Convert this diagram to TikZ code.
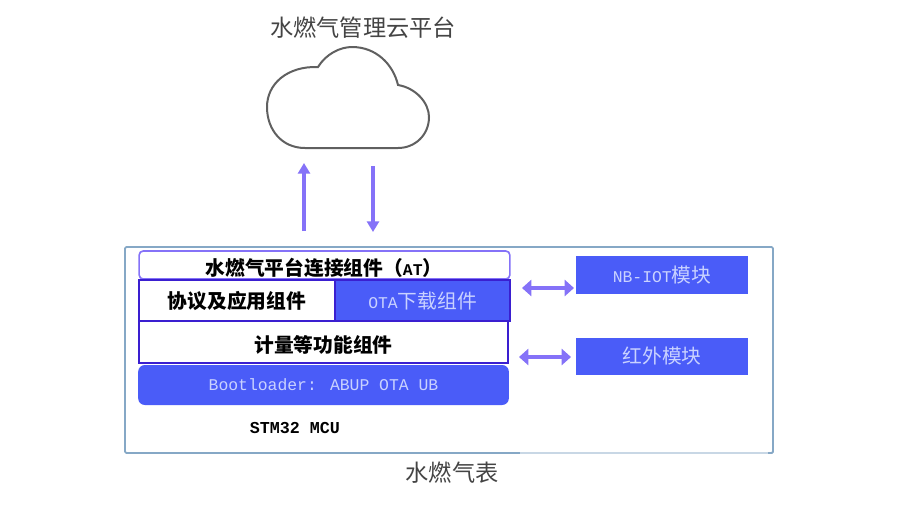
\documentclass[tikz,border=0pt]{standalone}
\usepackage{fontspec}
\usetikzlibrary{arrows.meta}
\newfontfamily\cjk{Noto Sans CJK SC}
\newfontfamily\lat{Liberation Mono}
\definecolor{blu}{HTML}{4A5CF8}
\definecolor{pur}{HTML}{8572F8}
\definecolor{deep}{HTML}{3A1FD0}
\definecolor{outer}{HTML}{86A8C6}
\definecolor{lbl}{HTML}{C9D2FF}
\definecolor{grayt}{HTML}{444444}
\newcommand{\latf}{\lat\fontsize{12.3pt}{14pt}\selectfont}
\tikzset{
 x=0.75pt,y=-0.75pt,
 whitebox/.style={draw=deep,line width=1.1pt,fill=white,inner sep=0pt},
 bluebox/.style={fill=blu,text=lbl,inner sep=0pt},
 flow/.style={draw=pur,line width=2.4pt,-{Triangle[length=8pt,width=9pt]}},
 flowboth/.style={draw=pur,line width=3.2pt,{Triangle[length=7pt,width=12pt]}-{Triangle[length=7pt,width=12pt]}},
 boldt/.style={text=black,font=\cjk\bfseries\fontsize{14.8pt}{17pt}\selectfont},
 whitet/.style={font=\cjk\fontsize{14.8pt}{17pt}\selectfont},
 title/.style={text=grayt,font=\cjk\fontsize{17.4pt}{20pt}\selectfont},
}
\begin{document}
\begin{tikzpicture}
\useasboundingbox (0,0) rectangle (909,515);
\fill[white] (0,0) rectangle (909,515);
% cloud
\draw[draw=gray!75!black,line width=1.5pt,fill=white]
 (305,148) .. controls (282,148) and (267,130) .. (267,107)
 .. controls (267,84) and (287,66) .. (318,67)
 .. controls (326,54) and (340,47) .. (352,47)
 .. controls (376,47) and (393,64) .. (398,85)
 .. controls (416,88) and (429,103) .. (429,117)
 .. controls (429,135) and (415,148) .. (398,148) -- cycle;
\node[title] (cloudt) at (363,28) {水燃气管理云平台};
\coordinate (cu) at (304,163);
\coordinate (cd) at (373,166);
\coordinate (du) at (304,231);
\coordinate (dd) at (373,232);
\draw[flow] (du) -- (cu);
\draw[flow] (cd) -- (dd);
% outer
\node[draw=outer,line width=1.4pt,rounded corners=1pt,inner sep=0pt,minimum width=486pt,minimum height=154.5pt] (meter) at (449,350) {};
\coordinate (fadea) at (520,453);
\coordinate (fadeb) at (768,453);
\draw[white,opacity=0.55,line width=1.6pt] (fadea) -- (fadeb);
\node[title] (metert) at (452,473) {水燃气表};
% layers
\node[draw=pur,line width=1.2pt,rounded corners=3pt,fill=white,inner sep=0pt,minimum width=278pt,minimum height=21pt] (at) at (324.5,265) {};
\node[boldt] (att) at (324,267.5) {水燃气平台连接组件（{\lat\bfseries\fontsize{12.3pt}{14pt}\selectfont AT}）};
\node[whitebox,minimum width=147pt,minimum height=31pt,boldt] (proto) at (237,300.5) {\raisebox{-6pt}[0pt][0pt]{协议及应用组件}};
\node[bluebox,draw=deep,line width=1.1pt,minimum width=131pt,minimum height=31pt,whitet] (ota) at (422.5,300.5) {\raisebox{-6.3pt}[0pt][0pt]{{\latf OTA}下载组件}};
\node[whitebox,minimum width=277pt,minimum height=31pt,boldt] (meas) at (323.5,342.3) {\raisebox{-7.8pt}[0pt][0pt]{计量等功能组件}};
\node[bluebox,rounded corners=5pt,minimum width=278pt,minimum height=30pt,font=\latf] (boot) at (323.5,385) {Bootloader: ABUP OTA UB};
\node[text=black,font=\lat\bfseries\fontsize{12.5pt}{14pt}\selectfont] (mcu) at (295,428) {STM32 MCU};
% modules
\node[bluebox,minimum width=129pt,minimum height=28.5pt,whitet] (nb) at (662,275) {{\latf NB-IOT}模块};
\node[bluebox,minimum width=129pt,minimum height=28pt,whitet] (ir) at (662,356.5) {红外模块};
\coordinate (nbl) at (574,288);
\coordinate (irl) at (571,357);
\coordinate (al) at (522,288);
\coordinate (ml) at (519,357);
\draw[flowboth] (al) -- (nbl);
\draw[flowboth] (ml) -- (irl);
\end{tikzpicture}
\end{document}
